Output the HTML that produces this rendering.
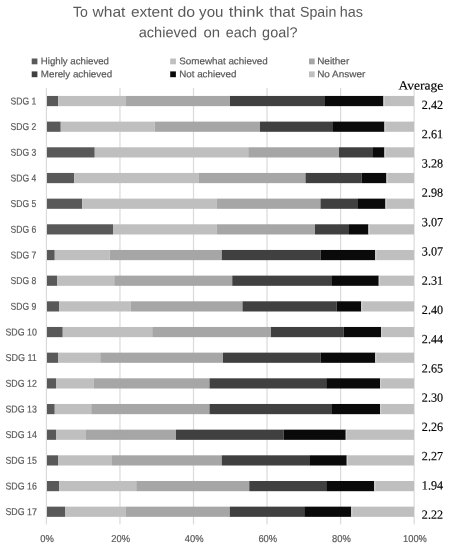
<!DOCTYPE html>
<html lang="en"><head><meta charset="utf-8"><title>To what extent do you think that Spain has achieved on each goal?</title>
<style>
html,body{margin:0;padding:0;background:#fff;}
body{width:452px;height:550px;overflow:hidden;}
svg{display:block;}
.s{font-family:"Liberation Sans",Arial,sans-serif;fill:#595959;stroke:#595959;stroke-width:0.2px;}
.t{font-family:"Liberation Sans",Arial,sans-serif;fill:#595959;}
.r{font-family:"Liberation Serif","Times New Roman",serif;fill:#000;stroke:#000;stroke-width:0.15px;}
</style></head><body>
<svg width="452" height="550" viewBox="0 0 452 550">
<rect width="452" height="550" fill="#fff"/>
<g>
<text class="t" x="72.91" y="16.80" font-size="14.5" textLength="14.9" lengthAdjust="spacingAndGlyphs" transform="rotate(0.05 72.9 16.8)">To</text>
<text class="t" x="92.56" y="16.80" font-size="14.5" textLength="32.9" lengthAdjust="spacingAndGlyphs" transform="rotate(0.05 92.6 16.8)">what</text>
<text class="t" x="130.90" y="16.80" font-size="14.5" textLength="42.2" lengthAdjust="spacingAndGlyphs" transform="rotate(0.05 130.9 16.8)">extent</text>
<text class="t" x="177.43" y="16.80" font-size="14.5" textLength="17.6" lengthAdjust="spacingAndGlyphs" transform="rotate(0.05 177.4 16.8)">do</text>
<text class="t" x="199.10" y="16.80" font-size="14.5" textLength="24.3" lengthAdjust="spacingAndGlyphs" transform="rotate(0.05 199.1 16.8)">you</text>
<text class="t" x="228.85" y="16.80" font-size="14.5" textLength="34.8" lengthAdjust="spacingAndGlyphs" transform="rotate(0.05 228.9 16.8)">think</text>
<text class="t" x="269.37" y="16.80" font-size="14.5" textLength="25.8" lengthAdjust="spacingAndGlyphs" transform="rotate(0.05 269.4 16.8)">that</text>
<text class="t" x="299.99" y="16.80" font-size="14.5" textLength="36.3" lengthAdjust="spacingAndGlyphs" transform="rotate(0.05 300.0 16.8)">Spain</text>
<text class="t" x="339.65" y="16.80" font-size="14.5" textLength="23.2" lengthAdjust="spacingAndGlyphs" transform="rotate(0.05 339.7 16.8)">has</text>
</g>
<g>
<text class="t" x="138.72" y="37.20" font-size="14.5" textLength="58.3" lengthAdjust="spacingAndGlyphs" transform="rotate(0.05 138.7 37.2)">achieved</text>
<text class="t" x="203.56" y="37.20" font-size="14.5" textLength="16.6" lengthAdjust="spacingAndGlyphs" transform="rotate(0.05 203.6 37.2)">on</text>
<text class="t" x="225.76" y="37.20" font-size="14.5" textLength="31.0" lengthAdjust="spacingAndGlyphs" transform="rotate(0.05 225.8 37.2)">each</text>
<text class="t" x="262.12" y="37.20" font-size="14.5" textLength="35.3" lengthAdjust="spacingAndGlyphs" transform="rotate(0.05 262.1 37.2)">goal?</text>
</g>
<rect x="31.7" y="58.5" width="5.7" height="5.8" fill="#595959"/>
<text class="s" x="40.80" y="64.20" font-size="9.5" textLength="68.2" lengthAdjust="spacingAndGlyphs" transform="rotate(0.05 40.8 64.2)">Highly achieved</text>
<rect x="31.7" y="71.4" width="5.7" height="5.8" fill="#404040"/>
<text class="s" x="40.80" y="77.30" font-size="9.5" textLength="71.3" lengthAdjust="spacingAndGlyphs" transform="rotate(0.05 40.8 77.3)">Merely achieved</text>
<rect x="170.2" y="58.5" width="5.7" height="5.8" fill="#bfbfbf"/>
<text class="s" x="179.20" y="64.20" font-size="9.5" textLength="88.6" lengthAdjust="spacingAndGlyphs" transform="rotate(0.05 179.2 64.2)">Somewhat achieved</text>
<rect x="170.2" y="71.4" width="5.7" height="5.8" fill="#0a0a0a"/>
<text class="s" x="179.20" y="77.30" font-size="9.5" textLength="57.2" lengthAdjust="spacingAndGlyphs" transform="rotate(0.05 179.2 77.3)">Not achieved</text>
<rect x="309.0" y="58.5" width="5.7" height="5.8" fill="#a6a6a6"/>
<text class="s" x="317.20" y="64.20" font-size="9.5" textLength="32.0" lengthAdjust="spacingAndGlyphs" transform="rotate(0.05 317.2 64.2)">Neither</text>
<rect x="309.0" y="71.4" width="5.7" height="5.8" fill="#bfbfbf"/>
<text class="s" x="317.20" y="77.30" font-size="9.5" textLength="48.1" lengthAdjust="spacingAndGlyphs" transform="rotate(0.05 317.2 77.3)">No Answer</text>
<rect x="45.80" y="88" width="1.2" height="436.4" fill="#dadada"/>
<rect x="119.35" y="88" width="1.2" height="436.4" fill="#dadada"/>
<rect x="192.90" y="88" width="1.2" height="436.4" fill="#dadada"/>
<rect x="266.45" y="88" width="1.2" height="436.4" fill="#dadada"/>
<rect x="340.00" y="88" width="1.2" height="436.4" fill="#dadada"/>
<rect x="413.55" y="88" width="1.2" height="436.4" fill="#dadada"/>
<rect x="47.00" y="95.94" width="11.25" height="10.20" fill="#595959"/>
<rect x="58.25" y="95.94" width="67.75" height="10.20" fill="#bfbfbf"/>
<rect x="126.00" y="95.94" width="104.00" height="10.20" fill="#a6a6a6"/>
<rect x="230.00" y="95.94" width="95.00" height="10.20" fill="#404040"/>
<rect x="325.00" y="95.94" width="58.50" height="10.20" fill="#0a0a0a"/>
<rect x="383.50" y="95.94" width="30.50" height="10.20" fill="#bfbfbf"/>
<rect x="383.70" y="95.94" width="1" height="10.20" fill="#d2d2d2"/>
<text class="s" x="10.60" y="104.38" font-size="10" textLength="25.7" lengthAdjust="spacingAndGlyphs" transform="rotate(0.05 10.6 104.4)">SDG 1</text>
<rect x="47.00" y="121.61" width="13.75" height="10.20" fill="#595959"/>
<rect x="60.75" y="121.61" width="94.00" height="10.20" fill="#bfbfbf"/>
<rect x="154.75" y="121.61" width="105.25" height="10.20" fill="#a6a6a6"/>
<rect x="260.00" y="121.61" width="73.00" height="10.20" fill="#404040"/>
<rect x="333.00" y="121.61" width="51.50" height="10.20" fill="#0a0a0a"/>
<rect x="384.50" y="121.61" width="29.50" height="10.20" fill="#bfbfbf"/>
<rect x="384.70" y="121.61" width="1" height="10.20" fill="#d2d2d2"/>
<text class="s" x="10.60" y="130.06" font-size="10" textLength="25.7" lengthAdjust="spacingAndGlyphs" transform="rotate(0.05 10.6 130.1)">SDG 2</text>
<rect x="47.00" y="147.28" width="47.75" height="10.20" fill="#595959"/>
<rect x="94.75" y="147.28" width="153.50" height="10.20" fill="#bfbfbf"/>
<rect x="248.25" y="147.28" width="90.75" height="10.20" fill="#a6a6a6"/>
<rect x="339.00" y="147.28" width="34.00" height="10.20" fill="#404040"/>
<rect x="373.00" y="147.28" width="11.50" height="10.20" fill="#0a0a0a"/>
<rect x="384.50" y="147.28" width="29.50" height="10.20" fill="#bfbfbf"/>
<rect x="384.70" y="147.28" width="1" height="10.20" fill="#d2d2d2"/>
<text class="s" x="10.60" y="155.72" font-size="10" textLength="25.7" lengthAdjust="spacingAndGlyphs" transform="rotate(0.05 10.6 155.7)">SDG 3</text>
<rect x="47.00" y="172.95" width="27.25" height="10.20" fill="#595959"/>
<rect x="74.25" y="172.95" width="124.75" height="10.20" fill="#bfbfbf"/>
<rect x="199.00" y="172.95" width="106.50" height="10.20" fill="#a6a6a6"/>
<rect x="305.50" y="172.95" width="56.25" height="10.20" fill="#404040"/>
<rect x="361.75" y="172.95" width="24.75" height="10.20" fill="#0a0a0a"/>
<rect x="386.50" y="172.95" width="27.50" height="10.20" fill="#bfbfbf"/>
<rect x="386.70" y="172.95" width="1" height="10.20" fill="#d2d2d2"/>
<text class="s" x="10.60" y="181.40" font-size="10" textLength="25.7" lengthAdjust="spacingAndGlyphs" transform="rotate(0.05 10.6 181.4)">SDG 4</text>
<rect x="47.00" y="198.62" width="35.25" height="10.20" fill="#595959"/>
<rect x="82.25" y="198.62" width="134.25" height="10.20" fill="#bfbfbf"/>
<rect x="216.50" y="198.62" width="104.00" height="10.20" fill="#a6a6a6"/>
<rect x="320.50" y="198.62" width="37.50" height="10.20" fill="#404040"/>
<rect x="358.00" y="198.62" width="27.50" height="10.20" fill="#0a0a0a"/>
<rect x="385.50" y="198.62" width="28.50" height="10.20" fill="#bfbfbf"/>
<rect x="385.70" y="198.62" width="1" height="10.20" fill="#d2d2d2"/>
<text class="s" x="10.60" y="207.07" font-size="10" textLength="25.7" lengthAdjust="spacingAndGlyphs" transform="rotate(0.05 10.6 207.1)">SDG 5</text>
<rect x="47.00" y="224.28" width="66.00" height="10.20" fill="#595959"/>
<rect x="113.00" y="224.28" width="103.50" height="10.20" fill="#bfbfbf"/>
<rect x="216.50" y="224.28" width="98.50" height="10.20" fill="#a6a6a6"/>
<rect x="315.00" y="224.28" width="34.00" height="10.20" fill="#404040"/>
<rect x="349.00" y="224.28" width="19.50" height="10.20" fill="#0a0a0a"/>
<rect x="368.50" y="224.28" width="45.50" height="10.20" fill="#bfbfbf"/>
<rect x="368.70" y="224.28" width="1" height="10.20" fill="#d2d2d2"/>
<text class="s" x="10.60" y="232.73" font-size="10" textLength="25.7" lengthAdjust="spacingAndGlyphs" transform="rotate(0.05 10.6 232.7)">SDG 6</text>
<rect x="47.00" y="249.96" width="7.75" height="10.20" fill="#595959"/>
<rect x="54.75" y="249.96" width="55.00" height="10.20" fill="#bfbfbf"/>
<rect x="109.75" y="249.96" width="112.00" height="10.20" fill="#a6a6a6"/>
<rect x="221.75" y="249.96" width="98.75" height="10.20" fill="#404040"/>
<rect x="320.50" y="249.96" width="54.75" height="10.20" fill="#0a0a0a"/>
<rect x="375.25" y="249.96" width="38.75" height="10.20" fill="#bfbfbf"/>
<rect x="375.45" y="249.96" width="1" height="10.20" fill="#d2d2d2"/>
<text class="s" x="10.60" y="258.41" font-size="10" textLength="25.7" lengthAdjust="spacingAndGlyphs" transform="rotate(0.05 10.6 258.4)">SDG 7</text>
<rect x="47.00" y="275.62" width="10.00" height="10.20" fill="#595959"/>
<rect x="57.00" y="275.62" width="57.25" height="10.20" fill="#bfbfbf"/>
<rect x="114.25" y="275.62" width="118.00" height="10.20" fill="#a6a6a6"/>
<rect x="232.25" y="275.62" width="99.75" height="10.20" fill="#404040"/>
<rect x="332.00" y="275.62" width="46.75" height="10.20" fill="#0a0a0a"/>
<rect x="378.75" y="275.62" width="35.25" height="10.20" fill="#bfbfbf"/>
<rect x="378.95" y="275.62" width="1" height="10.20" fill="#d2d2d2"/>
<text class="s" x="10.60" y="284.08" font-size="10" textLength="25.7" lengthAdjust="spacingAndGlyphs" transform="rotate(0.05 10.6 284.1)">SDG 8</text>
<rect x="47.00" y="301.30" width="12.25" height="10.20" fill="#595959"/>
<rect x="59.25" y="301.30" width="71.25" height="10.20" fill="#bfbfbf"/>
<rect x="130.50" y="301.30" width="112.00" height="10.20" fill="#a6a6a6"/>
<rect x="242.50" y="301.30" width="94.25" height="10.20" fill="#404040"/>
<rect x="336.75" y="301.30" width="24.50" height="10.20" fill="#0a0a0a"/>
<rect x="361.25" y="301.30" width="52.75" height="10.20" fill="#bfbfbf"/>
<rect x="361.45" y="301.30" width="1" height="10.20" fill="#d2d2d2"/>
<text class="s" x="10.60" y="309.75" font-size="10" textLength="25.7" lengthAdjust="spacingAndGlyphs" transform="rotate(0.05 10.6 309.7)">SDG 9</text>
<rect x="47.00" y="326.96" width="15.75" height="10.20" fill="#595959"/>
<rect x="62.75" y="326.96" width="89.50" height="10.20" fill="#bfbfbf"/>
<rect x="152.25" y="326.96" width="118.75" height="10.20" fill="#a6a6a6"/>
<rect x="271.00" y="326.96" width="72.75" height="10.20" fill="#404040"/>
<rect x="343.75" y="326.96" width="37.25" height="10.20" fill="#0a0a0a"/>
<rect x="381.00" y="326.96" width="33.00" height="10.20" fill="#bfbfbf"/>
<rect x="381.20" y="326.96" width="1" height="10.20" fill="#d2d2d2"/>
<text class="s" x="5.40" y="335.42" font-size="10" textLength="31.4" lengthAdjust="spacingAndGlyphs" transform="rotate(0.05 5.4 335.4)">SDG 10</text>
<rect x="47.00" y="352.63" width="11.00" height="10.20" fill="#595959"/>
<rect x="58.00" y="352.63" width="42.25" height="10.20" fill="#bfbfbf"/>
<rect x="100.25" y="352.63" width="122.75" height="10.20" fill="#a6a6a6"/>
<rect x="223.00" y="352.63" width="97.50" height="10.20" fill="#404040"/>
<rect x="320.50" y="352.63" width="54.75" height="10.20" fill="#0a0a0a"/>
<rect x="375.25" y="352.63" width="38.75" height="10.20" fill="#bfbfbf"/>
<rect x="375.45" y="352.63" width="1" height="10.20" fill="#d2d2d2"/>
<text class="s" x="5.40" y="361.09" font-size="10" textLength="31.4" lengthAdjust="spacingAndGlyphs" transform="rotate(0.05 5.4 361.1)">SDG 11</text>
<rect x="47.00" y="378.31" width="9.00" height="10.20" fill="#595959"/>
<rect x="56.00" y="378.31" width="37.50" height="10.20" fill="#bfbfbf"/>
<rect x="93.50" y="378.31" width="116.00" height="10.20" fill="#a6a6a6"/>
<rect x="209.50" y="378.31" width="116.75" height="10.20" fill="#404040"/>
<rect x="326.25" y="378.31" width="53.75" height="10.20" fill="#0a0a0a"/>
<rect x="380.00" y="378.31" width="34.00" height="10.20" fill="#bfbfbf"/>
<rect x="380.20" y="378.31" width="1" height="10.20" fill="#d2d2d2"/>
<text class="s" x="5.40" y="386.76" font-size="10" textLength="31.4" lengthAdjust="spacingAndGlyphs" transform="rotate(0.05 5.4 386.8)">SDG 12</text>
<rect x="47.00" y="403.97" width="7.75" height="10.20" fill="#595959"/>
<rect x="54.75" y="403.97" width="36.50" height="10.20" fill="#bfbfbf"/>
<rect x="91.25" y="403.97" width="118.25" height="10.20" fill="#a6a6a6"/>
<rect x="209.50" y="403.97" width="122.50" height="10.20" fill="#404040"/>
<rect x="332.00" y="403.97" width="48.00" height="10.20" fill="#0a0a0a"/>
<rect x="380.00" y="403.97" width="34.00" height="10.20" fill="#bfbfbf"/>
<rect x="380.20" y="403.97" width="1" height="10.20" fill="#d2d2d2"/>
<text class="s" x="5.40" y="412.43" font-size="10" textLength="31.4" lengthAdjust="spacingAndGlyphs" transform="rotate(0.05 5.4 412.4)">SDG 13</text>
<rect x="47.00" y="429.64" width="9.00" height="10.20" fill="#595959"/>
<rect x="56.00" y="429.64" width="30.00" height="10.20" fill="#bfbfbf"/>
<rect x="86.00" y="429.64" width="90.00" height="10.20" fill="#a6a6a6"/>
<rect x="176.00" y="429.64" width="107.50" height="10.20" fill="#404040"/>
<rect x="283.50" y="429.64" width="62.25" height="10.20" fill="#0a0a0a"/>
<rect x="345.75" y="429.64" width="68.25" height="10.20" fill="#bfbfbf"/>
<rect x="345.95" y="429.64" width="1" height="10.20" fill="#d2d2d2"/>
<text class="s" x="5.40" y="438.10" font-size="10" textLength="31.4" lengthAdjust="spacingAndGlyphs" transform="rotate(0.05 5.4 438.1)">SDG 14</text>
<rect x="47.00" y="455.31" width="11.00" height="10.20" fill="#595959"/>
<rect x="58.00" y="455.31" width="54.00" height="10.20" fill="#bfbfbf"/>
<rect x="112.00" y="455.31" width="109.75" height="10.20" fill="#a6a6a6"/>
<rect x="221.75" y="455.31" width="88.25" height="10.20" fill="#404040"/>
<rect x="310.00" y="455.31" width="36.75" height="10.20" fill="#0a0a0a"/>
<rect x="346.75" y="455.31" width="67.25" height="10.20" fill="#bfbfbf"/>
<rect x="346.95" y="455.31" width="1" height="10.20" fill="#d2d2d2"/>
<text class="s" x="5.40" y="463.77" font-size="10" textLength="31.4" lengthAdjust="spacingAndGlyphs" transform="rotate(0.05 5.4 463.8)">SDG 15</text>
<rect x="47.00" y="480.99" width="12.25" height="10.20" fill="#595959"/>
<rect x="59.25" y="480.99" width="77.00" height="10.20" fill="#bfbfbf"/>
<rect x="136.25" y="480.99" width="113.00" height="10.20" fill="#a6a6a6"/>
<rect x="249.25" y="480.99" width="77.00" height="10.20" fill="#404040"/>
<rect x="326.25" y="480.99" width="48.00" height="10.20" fill="#0a0a0a"/>
<rect x="374.25" y="480.99" width="39.75" height="10.20" fill="#bfbfbf"/>
<rect x="374.45" y="480.99" width="1" height="10.20" fill="#d2d2d2"/>
<text class="s" x="5.40" y="489.44" font-size="10" textLength="31.4" lengthAdjust="spacingAndGlyphs" transform="rotate(0.05 5.4 489.4)">SDG 16</text>
<rect x="47.00" y="506.65" width="18.00" height="10.20" fill="#595959"/>
<rect x="65.00" y="506.65" width="61.00" height="10.20" fill="#bfbfbf"/>
<rect x="126.00" y="506.65" width="103.75" height="10.20" fill="#a6a6a6"/>
<rect x="229.75" y="506.65" width="74.50" height="10.20" fill="#404040"/>
<rect x="304.25" y="506.65" width="47.00" height="10.20" fill="#0a0a0a"/>
<rect x="351.25" y="506.65" width="62.75" height="10.20" fill="#bfbfbf"/>
<rect x="351.45" y="506.65" width="1" height="10.20" fill="#d2d2d2"/>
<text class="s" x="5.40" y="515.11" font-size="10" textLength="31.4" lengthAdjust="spacingAndGlyphs" transform="rotate(0.05 5.4 515.1)">SDG 17</text>
<text class="s" x="40.20" y="542.00" font-size="10" textLength="13.6" lengthAdjust="spacingAndGlyphs" transform="rotate(0.05 40.2 542.0)">0%</text>
<text class="s" x="111.20" y="542.00" font-size="10" textLength="18.8" lengthAdjust="spacingAndGlyphs" transform="rotate(0.05 111.2 542.0)">20%</text>
<text class="s" x="184.80" y="542.00" font-size="10" textLength="18.8" lengthAdjust="spacingAndGlyphs" transform="rotate(0.05 184.8 542.0)">40%</text>
<text class="s" x="258.40" y="542.00" font-size="10" textLength="18.8" lengthAdjust="spacingAndGlyphs" transform="rotate(0.05 258.4 542.0)">60%</text>
<text class="s" x="332.00" y="542.00" font-size="10" textLength="18.8" lengthAdjust="spacingAndGlyphs" transform="rotate(0.05 332.0 542.0)">80%</text>
<text class="s" x="403.10" y="542.00" font-size="10" textLength="23.8" lengthAdjust="spacingAndGlyphs" transform="rotate(0.05 403.1 542.0)">100%</text>
<text class="r" x="398.40" y="89.60" font-size="12.6" textLength="44.8" lengthAdjust="spacingAndGlyphs" transform="rotate(0.05 398.4 89.6)">Average</text>
<text class="r" x="421.80" y="109.05" font-size="12.6" textLength="21.3" lengthAdjust="spacingAndGlyphs" transform="rotate(0.05 421.8 109.0)">2.42</text>
<text class="r" x="421.80" y="138.32" font-size="12.6" textLength="21.3" lengthAdjust="spacingAndGlyphs" transform="rotate(0.05 421.8 138.3)">2.61</text>
<text class="r" x="421.80" y="167.59" font-size="12.6" textLength="21.3" lengthAdjust="spacingAndGlyphs" transform="rotate(0.05 421.8 167.6)">3.28</text>
<text class="r" x="421.80" y="196.86" font-size="12.6" textLength="21.3" lengthAdjust="spacingAndGlyphs" transform="rotate(0.05 421.8 196.9)">2.98</text>
<text class="r" x="421.80" y="226.13" font-size="12.6" textLength="21.3" lengthAdjust="spacingAndGlyphs" transform="rotate(0.05 421.8 226.1)">3.07</text>
<text class="r" x="421.80" y="255.40" font-size="12.6" textLength="21.3" lengthAdjust="spacingAndGlyphs" transform="rotate(0.05 421.8 255.4)">3.07</text>
<text class="r" x="421.80" y="284.67" font-size="12.6" textLength="21.3" lengthAdjust="spacingAndGlyphs" transform="rotate(0.05 421.8 284.7)">2.31</text>
<text class="r" x="421.80" y="313.94" font-size="12.6" textLength="21.3" lengthAdjust="spacingAndGlyphs" transform="rotate(0.05 421.8 313.9)">2.40</text>
<text class="r" x="421.80" y="343.21" font-size="12.6" textLength="21.3" lengthAdjust="spacingAndGlyphs" transform="rotate(0.05 421.8 343.2)">2.44</text>
<text class="r" x="421.80" y="372.48" font-size="12.6" textLength="21.3" lengthAdjust="spacingAndGlyphs" transform="rotate(0.05 421.8 372.5)">2.65</text>
<text class="r" x="421.80" y="401.75" font-size="12.6" textLength="21.3" lengthAdjust="spacingAndGlyphs" transform="rotate(0.05 421.8 401.8)">2.30</text>
<text class="r" x="421.80" y="431.02" font-size="12.6" textLength="21.3" lengthAdjust="spacingAndGlyphs" transform="rotate(0.05 421.8 431.0)">2.26</text>
<text class="r" x="421.80" y="460.29" font-size="12.6" textLength="21.3" lengthAdjust="spacingAndGlyphs" transform="rotate(0.05 421.8 460.3)">2.27</text>
<text class="r" x="421.80" y="489.56" font-size="12.6" textLength="21.3" lengthAdjust="spacingAndGlyphs" transform="rotate(0.05 421.8 489.6)">1.94</text>
<text class="r" x="421.80" y="518.83" font-size="12.6" textLength="21.3" lengthAdjust="spacingAndGlyphs" transform="rotate(0.05 421.8 518.8)">2.22</text>
</svg></body></html>
